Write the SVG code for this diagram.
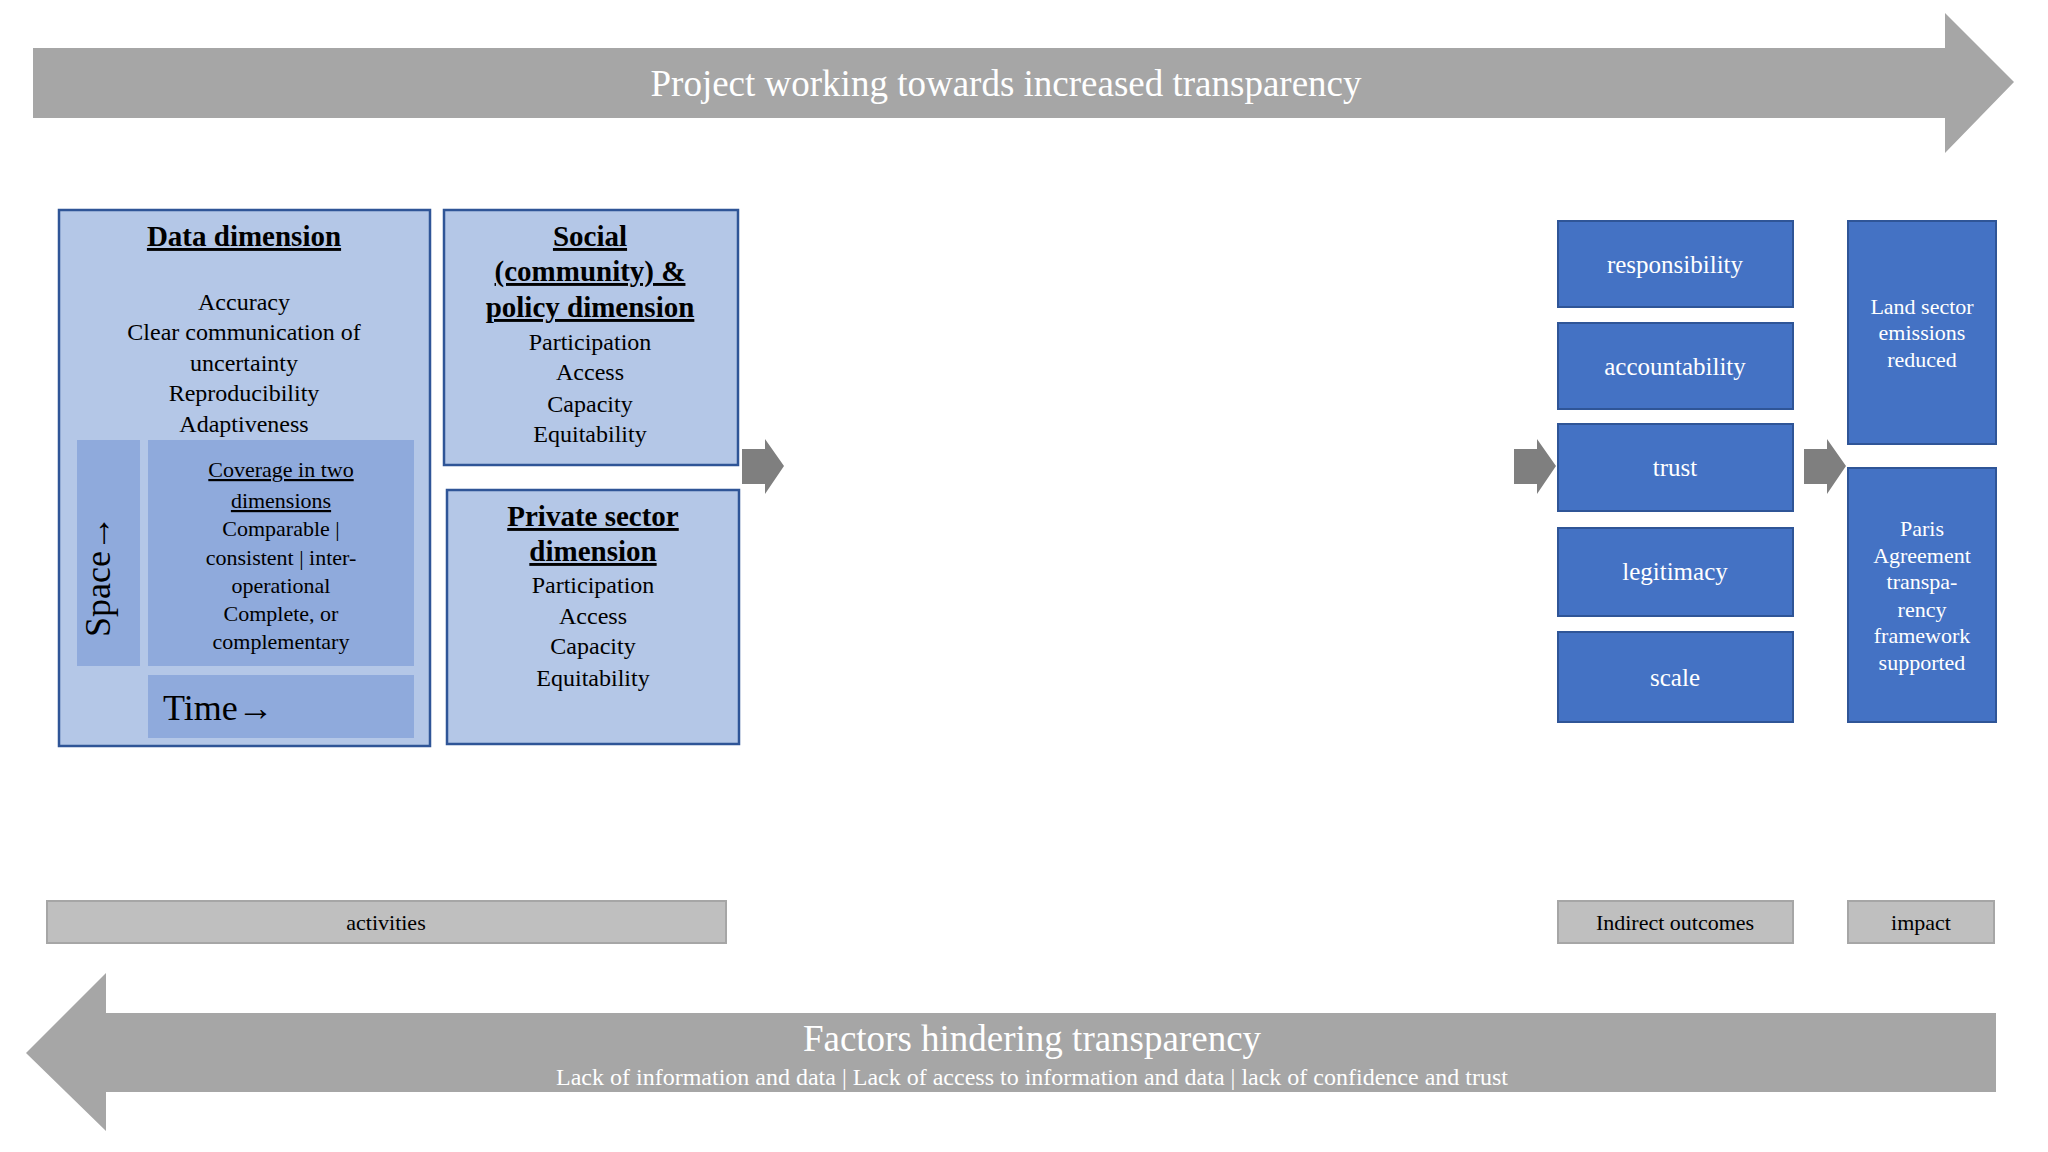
<svg xmlns="http://www.w3.org/2000/svg" width="2048" height="1152" viewBox="0 0 2048 1152">
<style>
text{font-family:"Liberation Serif","DejaVu Serif",serif;text-anchor:middle;fill:#000}
.lb{fill:#b4c7e7;stroke:#2f5597;stroke-width:2.5}
.md{fill:#8faadc}
.bl{fill:#4472c4;stroke:#2f5597;stroke-width:2}
.gr{fill:#bfbfbf;stroke:#a6a6a6;stroke-width:2}
.w{fill:#fff}
.t{font-size:24px}
.h{font-size:29px;font-weight:bold;text-decoration:underline}
.s{font-size:22px}
.bt{font-size:25px;fill:#fff}
.rt{font-size:22px;fill:#fff}
</style>
<rect width="2048" height="1152" fill="#fff"/>
<g id="top-arrow">
<polygon points="33,48 1945,48 1945,13 2014,82 1945,153 1945,118 33,118" fill="#a6a6a6"/>
<text x="1006" y="96" style="font-size:37px;fill:#fff">Project working towards increased transparency</text>
</g>
<g id="data">
<rect class="lb" x="59" y="210" width="371" height="536"/>
<text class="h" x="244" y="246">Data dimension</text>
<text class="t" x="244" y="310">Accuracy</text>
<text class="t" x="244" y="340">Clear communication of</text>
<text class="t" x="244" y="371">uncertainty</text>
<text class="t" x="244" y="401">Reproducibility</text>
<text class="t" x="244" y="432">Adaptiveness</text>
<rect class="md" x="77" y="440" width="63" height="226"/>
<rect class="md" x="148" y="440" width="266" height="226"/>
<rect class="md" x="148" y="675" width="266" height="63"/>
<text class="s" x="281" y="477" text-decoration="underline">Coverage in two</text>
<text class="s" x="281" y="508" text-decoration="underline">dimensions</text>
<text class="s" x="281" y="536">Comparable |</text>
<text class="s" x="281" y="565">consistent | inter-</text>
<text class="s" x="281" y="593">operational</text>
<text class="s" x="281" y="621">Complete, or</text>
<text class="s" x="281" y="649">complementary</text>
<text x="122" y="588" transform="rotate(-90 110 588)" style="font-size:36px">Space→</text>
<text x="163" y="720" style="font-size:36px;text-anchor:start">Time→</text>
</g>
<g id="social">
<rect class="lb" x="444" y="210" width="294" height="255"/>
<text class="h" x="590" y="246">Social</text>
<text class="h" x="590" y="281">(community) &amp;</text>
<text class="h" x="590" y="317">policy dimension</text>
<text class="t" x="590" y="350">Participation</text>
<text class="t" x="590" y="380">Access</text>
<text class="t" x="590" y="412">Capacity</text>
<text class="t" x="590" y="442">Equitability</text>
</g>
<g id="private">
<rect class="lb" x="447" y="490" width="292" height="254"/>
<text class="h" x="593" y="526">Private sector</text>
<text class="h" x="593" y="561">dimension</text>
<text class="t" x="593" y="593">Participation</text>
<text class="t" x="593" y="624">Access</text>
<text class="t" x="593" y="654">Capacity</text>
<text class="t" x="593" y="686">Equitability</text>
</g>
<g id="connectors" fill="#7f7f7f">
<polygon points="742,449 765,449 765,439 784,466 765,494 765,484 742,484"/>
<polygon points="1514,449 1537,449 1537,439 1556,466 1537,494 1537,484 1514,484"/>
<polygon points="1804,449 1827,449 1827,439 1846,466 1827,494 1827,484 1804,484"/>
</g>
<g id="responsibility"><rect class="bl" x="1558" y="221" width="235" height="86"/><text class="bt" x="1675" y="273">responsibility</text></g>
<g id="accountability"><rect class="bl" x="1558" y="323" width="235" height="86"/><text class="bt" x="1675" y="375">accountability</text></g>
<g id="trust"><rect class="bl" x="1558" y="424" width="235" height="87"/><text class="bt" x="1675" y="476">trust</text></g>
<g id="legitimacy"><rect class="bl" x="1558" y="528" width="235" height="88"/><text class="bt" x="1675" y="580">legitimacy</text></g>
<g id="scale"><rect class="bl" x="1558" y="632" width="235" height="90"/><text class="bt" x="1675" y="686">scale</text></g>
<g id="land"><rect class="bl" x="1848" y="221" width="148" height="223"/>
<text class="rt" x="1922" y="314">Land sector</text><text class="rt" x="1922" y="340">emissions</text><text class="rt" x="1922" y="367">reduced</text></g>
<g id="paris"><rect class="bl" x="1848" y="468" width="148" height="254"/>
<text class="rt" x="1922" y="536">Paris</text><text class="rt" x="1922" y="563">Agreement</text><text class="rt" x="1922" y="589">transpa-</text><text class="rt" x="1922" y="617">rency</text><text class="rt" x="1922" y="643">framework</text><text class="rt" x="1922" y="670">supported</text></g>
<g id="activities"><rect class="gr" x="47" y="901" width="679" height="42"/><text class="s" x="386" y="930">activities</text></g>
<g id="indirect"><rect class="gr" x="1558" y="901" width="235" height="42"/><text class="s" x="1675" y="930">Indirect outcomes</text></g>
<g id="impact"><rect class="gr" x="1848" y="901" width="146" height="42"/><text class="s" x="1921" y="930">impact</text></g>
<g id="bottom-arrow">
<polygon points="1996,1013 106,1013 106,973 26,1053 106,1131 106,1092 1996,1092" fill="#a6a6a6"/>
<text x="1032" y="1051" style="font-size:37px;fill:#fff">Factors hindering transparency</text>
<text x="1032" y="1085" style="font-size:24px;fill:#fff">Lack of information and data | Lack of access to information and data | lack of confidence and trust</text>
</g>
</svg>
